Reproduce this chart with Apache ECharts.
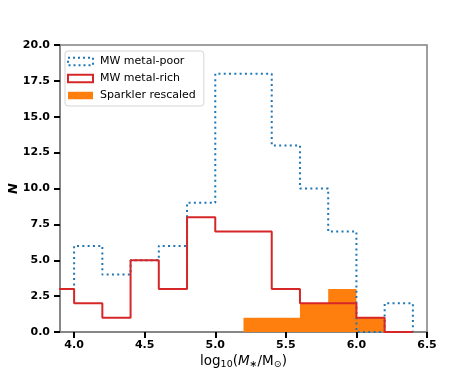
<!DOCTYPE html>
<html>
<head>
<meta charset="utf-8">
<script src="https://cdn.jsdelivr.net/npm/echarts@6/dist/echarts.min.js"></script>
<style>html,body{margin:0;padding:0;background:#fff;}#c{width:474px;height:379px;}</style>
</head>
<body>
<div id="c"></div>
<script>
// Histogram bin edges (log10 M*/Msun)
const binEdges = [3.8, 4.0, 4.2, 4.4, 4.6, 4.8, 5.0, 5.2, 5.4, 5.6, 5.8, 6.0, 6.2, 6.4];
// counts per bin (one fewer than edges)
const metalPoor = [3, 6, 4, 5, 6, 9, 18, 18, 13, 10, 7, 0, 2];
const metalRich = [3, 2, 1, 5, 3, 8, 7, 7, 3, 2, 2, 1, 0];
const sparkler  = [0, 0, 0, 0, 0, 0, 0, 1, 1, 2, 3, 1, 0];
const xTicks = [4.0, 4.5, 5.0, 5.5, 6.0, 6.5];
const seriesNames = ['MW metal-poor', 'MW metal-rich', 'Sparkler rescaled'];

function stepData(counts) {
  const d = counts.map((c, i) => [binEdges[i], c]);
  d.push([binEdges[binEdges.length - 1], 0]);
  return d;
}

const FONT = 'DejaVu Sans';
const chart = echarts.init(document.getElementById('c'), null, {renderer: 'canvas'});
chart.setOption({
  animation: false,
  backgroundColor: '#fff',
  grid: {left: 60, right: 47, top: 45, bottom: 47, show: true, borderColor: '#808080', borderWidth: 1.5, backgroundColor: 'transparent', outerBoundsMode: 'none', containLabel: false},
  xAxis: {
    type: 'value', min: 3.9, max: 6.5,
    axisLine: {show: true, lineStyle: {color: '#808080', width: 1.5}},
    axisTick: {show: true, inside: false, customValues: xTicks, length: 6, lineStyle: {color: '#000', width: 2}},
    axisLabel: {customValues: xTicks, formatter: v => v.toFixed(1), fontSize: 11, fontWeight: 'bold', color: '#000', fontFamily: FONT, margin: 8},
    splitLine: {show: false},
    name: '{a|log}{s|10}{a|(}{i|M}{t|∗}{a|/M}{s|⊙}{a|)}',
    nameLocation: 'middle', nameGap: 20, nameMoveOverlap: false,
    nameTextStyle: {
      rich: {
        a: {fontSize: 13.5, fontFamily: FONT, color: '#000', lineHeight: 18, verticalAlign: 'middle'},
        i: {fontSize: 13.5, fontFamily: FONT, fontStyle: 'italic', color: '#000', lineHeight: 18, verticalAlign: 'middle'},
        s: {fontSize: 9.5, fontFamily: FONT, color: '#000', lineHeight: 11, verticalAlign: 'bottom'},
        t: {fontSize: 9.5, fontFamily: FONT, fontStyle: 'italic', color: '#000', lineHeight: 11, verticalAlign: 'bottom'}
      }
    }
  },
  yAxis: {
    type: 'value', min: 0, max: 20, interval: 2.5,
    axisLine: {show: true, lineStyle: {color: '#808080', width: 1.5}},
    axisTick: {show: true, inside: false, length: 6, lineStyle: {color: '#000', width: 2}},
    axisLabel: {formatter: v => v.toFixed(1), fontSize: 11, fontWeight: 'bold', color: '#000', fontFamily: FONT, margin: 10},
    splitLine: {show: false},
    name: 'N', nameLocation: 'middle', nameGap: 40, nameMoveOverlap: false,
    nameTextStyle: {fontSize: 13, fontWeight: 'bold', fontStyle: 'italic', color: '#000', fontFamily: FONT}
  },
  legend: {
    orient: 'vertical', left: 65, top: 51,
    backgroundColor: 'rgba(255,255,255,0.8)', borderColor: '#d5d5d5', borderWidth: 1, borderRadius: 3,
    padding: [5, 8, 5, 2], itemWidth: 25, itemHeight: 7.5, itemGap: 6,
    textStyle: {fontSize: 11, color: '#000', fontFamily: FONT, padding: [0, 0, 0, 2]},
    data: [
      {name: seriesNames[0], icon: 'rect', itemStyle: {color: 'rgba(255,255,255,0)', borderColor: '#1f77b4', borderWidth: 2, borderType: [2, 3]}},
      {name: seriesNames[1], icon: 'rect', itemStyle: {color: '#fff', borderColor: '#d62728', borderWidth: 2, borderType: 'solid'}},
      {name: seriesNames[2], icon: 'rect', itemStyle: {color: '#ff7f0e', borderWidth: 0}}
    ]
  },
  series: [
    {
      name: seriesNames[2], type: 'line', step: 'end', data: stepData(sparkler),
      symbol: 'none', lineStyle: {width: 0, color: '#ff7f0e'}, itemStyle: {color: '#ff7f0e'},
      areaStyle: {color: '#ff7f0e', opacity: 1}, z: 1
    },
    {
      name: seriesNames[0], type: 'line', step: 'end', data: stepData(metalPoor),
      symbol: 'none', lineStyle: {width: 2, color: '#1f77b4', type: [2, 3.3], cap: 'butt'}, itemStyle: {color: '#1f77b4'}, z: 2
    },
    {
      name: seriesNames[1], type: 'line', step: 'end', data: stepData(metalRich),
      symbol: 'none', lineStyle: {width: 2, color: '#d62728'}, itemStyle: {color: '#d62728'}, z: 3
    }
  ]
});
</script>
</body>
</html>
